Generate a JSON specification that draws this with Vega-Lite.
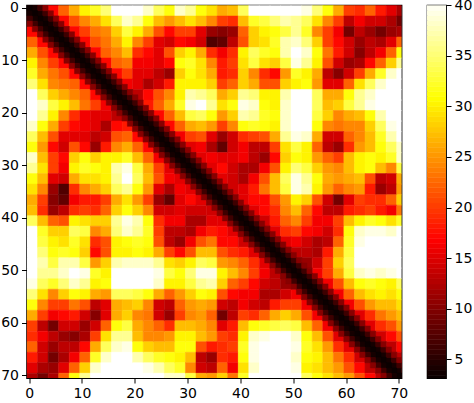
{"$schema":"https://vega.github.io/schema/vega-lite/v6.json","background":"white","padding":{"left":-2.5,"top":-3,"right":0,"bottom":0},"spacing":17.5,"config":{"view":{"stroke":"#000","strokeWidth":1.2},"axis":{"grid":false,"title":null,"labelFont":"DejaVu Sans","labelFontSize":14,"labelColor":"#000","tickColor":"#000","tickSize":5,"domain":false,"labelPadding":3}},"datasets":{"coarse":[
{"x":0,"y":0,"v":6},{"x":2,"y":0,"v":13},{"x":4,"y":0,"v":17},{"x":6,"y":0,"v":22},{"x":8,"y":0,"v":26},{"x":10,"y":0,"v":30},{"x":12,"y":0,"v":32},{"x":14,"y":0,"v":35},{"x":16,"y":0,"v":40},{"x":18,"y":0,"v":40},{"x":20,"y":0,"v":40},{"x":22,"y":0,"v":38},{"x":24,"y":0,"v":34},{"x":26,"y":0,"v":31},{"x":28,"y":0,"v":38},{"x":30,"y":0,"v":36},{"x":32,"y":0,"v":31},{"x":34,"y":0,"v":29},{"x":36,"y":0,"v":26},{"x":38,"y":0,"v":27},{"x":40,"y":0,"v":34},{"x":42,"y":0,"v":40},{"x":44,"y":0,"v":40},{"x":46,"y":0,"v":40},{"x":48,"y":0,"v":40},{"x":50,"y":0,"v":40},{"x":52,"y":0,"v":39},{"x":54,"y":0,"v":35},{"x":56,"y":0,"v":31},{"x":58,"y":0,"v":26},{"x":60,"y":0,"v":20},{"x":62,"y":0,"v":19},{"x":64,"y":0,"v":22},{"x":66,"y":0,"v":18},{"x":68,"y":0,"v":15},{"x":70,"y":0,"v":12},
{"x":2,"y":2,"v":6},{"x":4,"y":2,"v":12},{"x":6,"y":2,"v":17},{"x":8,"y":2,"v":21},{"x":10,"y":2,"v":24},{"x":12,"y":2,"v":26},{"x":14,"y":2,"v":29},{"x":16,"y":2,"v":34},{"x":18,"y":2,"v":38},{"x":20,"y":2,"v":36},{"x":22,"y":2,"v":31},{"x":24,"y":2,"v":27},{"x":26,"y":2,"v":25},{"x":28,"y":2,"v":27},{"x":30,"y":2,"v":29},{"x":32,"y":2,"v":27},{"x":34,"y":2,"v":24},{"x":36,"y":2,"v":20},{"x":38,"y":2,"v":19},{"x":40,"y":2,"v":27},{"x":42,"y":2,"v":32},{"x":44,"y":2,"v":33},{"x":46,"y":2,"v":35},{"x":48,"y":2,"v":37},{"x":50,"y":2,"v":36},{"x":52,"y":2,"v":34},{"x":54,"y":2,"v":29},{"x":56,"y":2,"v":24},{"x":58,"y":2,"v":20},{"x":60,"y":2,"v":13},{"x":62,"y":2,"v":16},{"x":64,"y":2,"v":14},{"x":66,"y":2,"v":14},{"x":68,"y":2,"v":12},{"x":70,"y":2,"v":9},
{"x":4,"y":4,"v":6},{"x":6,"y":4,"v":12},{"x":8,"y":4,"v":17},{"x":10,"y":4,"v":20},{"x":12,"y":4,"v":23},{"x":14,"y":4,"v":24},{"x":16,"y":4,"v":28},{"x":18,"y":4,"v":33},{"x":20,"y":4,"v":30},{"x":22,"y":4,"v":26},{"x":24,"y":4,"v":21},{"x":26,"y":4,"v":17},{"x":28,"y":4,"v":20},{"x":30,"y":4,"v":20},{"x":32,"y":4,"v":15},{"x":34,"y":4,"v":11},{"x":36,"y":4,"v":10},{"x":38,"y":4,"v":11},{"x":40,"y":4,"v":22},{"x":42,"y":4,"v":28},{"x":44,"y":4,"v":30},{"x":46,"y":4,"v":31},{"x":48,"y":4,"v":33},{"x":50,"y":4,"v":36},{"x":52,"y":4,"v":32},{"x":54,"y":4,"v":24},{"x":56,"y":4,"v":20},{"x":58,"y":4,"v":16},{"x":60,"y":4,"v":9},{"x":62,"y":4,"v":13},{"x":64,"y":4,"v":11},{"x":66,"y":4,"v":9},{"x":68,"y":4,"v":11},{"x":70,"y":4,"v":12},
{"x":6,"y":6,"v":6},{"x":8,"y":6,"v":12},{"x":10,"y":6,"v":17},{"x":12,"y":6,"v":21},{"x":14,"y":6,"v":23},{"x":16,"y":6,"v":26},{"x":18,"y":6,"v":30},{"x":20,"y":6,"v":24},{"x":22,"y":6,"v":20},{"x":24,"y":6,"v":15},{"x":26,"y":6,"v":14},{"x":28,"y":6,"v":17},{"x":30,"y":6,"v":16},{"x":32,"y":6,"v":14},{"x":34,"y":6,"v":7},{"x":36,"y":6,"v":8},{"x":38,"y":6,"v":13},{"x":40,"y":6,"v":21},{"x":42,"y":6,"v":28},{"x":44,"y":6,"v":29},{"x":46,"y":6,"v":32},{"x":48,"y":6,"v":37},{"x":50,"y":6,"v":38},{"x":52,"y":6,"v":35},{"x":54,"y":6,"v":28},{"x":56,"y":6,"v":20},{"x":58,"y":6,"v":17},{"x":60,"y":6,"v":14},{"x":62,"y":6,"v":11},{"x":64,"y":6,"v":13},{"x":66,"y":6,"v":12},{"x":68,"y":6,"v":15},{"x":70,"y":6,"v":22},
{"x":8,"y":8,"v":6},{"x":10,"y":8,"v":12},{"x":12,"y":8,"v":17},{"x":14,"y":8,"v":22},{"x":16,"y":8,"v":24},{"x":18,"y":8,"v":27},{"x":20,"y":8,"v":19},{"x":22,"y":8,"v":17},{"x":24,"y":8,"v":15},{"x":26,"y":8,"v":21},{"x":28,"y":8,"v":28},{"x":30,"y":8,"v":30},{"x":32,"y":8,"v":26},{"x":34,"y":8,"v":19},{"x":36,"y":8,"v":16},{"x":38,"y":8,"v":19},{"x":40,"y":8,"v":30},{"x":42,"y":8,"v":34},{"x":44,"y":8,"v":32},{"x":46,"y":8,"v":31},{"x":48,"y":8,"v":37},{"x":50,"y":8,"v":40},{"x":52,"y":8,"v":38},{"x":54,"y":8,"v":31},{"x":56,"y":8,"v":23},{"x":58,"y":8,"v":18},{"x":60,"y":8,"v":14},{"x":62,"y":8,"v":10},{"x":64,"y":8,"v":13},{"x":66,"y":8,"v":16},{"x":68,"y":8,"v":22},{"x":70,"y":8,"v":31},
{"x":10,"y":10,"v":6},{"x":12,"y":10,"v":12},{"x":14,"y":10,"v":17},{"x":16,"y":10,"v":22},{"x":18,"y":10,"v":23},{"x":20,"y":10,"v":16},{"x":22,"y":10,"v":16},{"x":24,"y":10,"v":15},{"x":26,"y":10,"v":17},{"x":28,"y":10,"v":31},{"x":30,"y":10,"v":32},{"x":32,"y":10,"v":29},{"x":34,"y":10,"v":24},{"x":36,"y":10,"v":18},{"x":38,"y":10,"v":20},{"x":40,"y":10,"v":29},{"x":42,"y":10,"v":33},{"x":44,"y":10,"v":29},{"x":46,"y":10,"v":28},{"x":48,"y":10,"v":33},{"x":50,"y":10,"v":39},{"x":52,"y":10,"v":36},{"x":54,"y":10,"v":30},{"x":56,"y":10,"v":21},{"x":58,"y":10,"v":14},{"x":60,"y":10,"v":11},{"x":62,"y":10,"v":12},{"x":64,"y":10,"v":17},{"x":66,"y":10,"v":22},{"x":68,"y":10,"v":28},{"x":70,"y":10,"v":36},
{"x":12,"y":12,"v":6},{"x":14,"y":12,"v":12},{"x":16,"y":12,"v":17},{"x":18,"y":12,"v":20},{"x":20,"y":12,"v":15},{"x":22,"y":12,"v":15},{"x":24,"y":12,"v":13},{"x":26,"y":12,"v":11},{"x":28,"y":12,"v":28},{"x":30,"y":12,"v":31},{"x":32,"y":12,"v":29},{"x":34,"y":12,"v":26},{"x":36,"y":12,"v":18},{"x":38,"y":12,"v":19},{"x":40,"y":12,"v":28},{"x":42,"y":12,"v":24},{"x":44,"y":12,"v":19},{"x":46,"y":12,"v":17},{"x":48,"y":12,"v":25},{"x":50,"y":12,"v":32},{"x":52,"y":12,"v":30},{"x":54,"y":12,"v":26},{"x":56,"y":12,"v":13},{"x":58,"y":12,"v":10},{"x":60,"y":12,"v":14},{"x":62,"y":12,"v":20},{"x":64,"y":12,"v":26},{"x":66,"y":12,"v":32},{"x":68,"y":12,"v":38},{"x":70,"y":12,"v":40},
{"x":14,"y":14,"v":6},{"x":16,"y":14,"v":12},{"x":18,"y":14,"v":16},{"x":20,"y":14,"v":15},{"x":22,"y":14,"v":12},{"x":24,"y":14,"v":14},{"x":26,"y":14,"v":18},{"x":28,"y":14,"v":30},{"x":30,"y":14,"v":30},{"x":32,"y":14,"v":30},{"x":34,"y":14,"v":28},{"x":36,"y":14,"v":20},{"x":38,"y":14,"v":22},{"x":40,"y":14,"v":28},{"x":42,"y":14,"v":26},{"x":44,"y":14,"v":21},{"x":46,"y":14,"v":21},{"x":48,"y":14,"v":28},{"x":50,"y":14,"v":30},{"x":52,"y":14,"v":31},{"x":54,"y":14,"v":25},{"x":56,"y":14,"v":15},{"x":58,"y":14,"v":15},{"x":60,"y":14,"v":22},{"x":62,"y":14,"v":29},{"x":64,"y":14,"v":34},{"x":66,"y":14,"v":38},{"x":68,"y":14,"v":40},{"x":70,"y":14,"v":40},
{"x":16,"y":16,"v":6},{"x":18,"y":16,"v":11},{"x":20,"y":16,"v":13},{"x":22,"y":16,"v":17},{"x":24,"y":16,"v":21},{"x":26,"y":16,"v":24},{"x":28,"y":16,"v":30},{"x":30,"y":16,"v":37},{"x":32,"y":16,"v":36},{"x":34,"y":16,"v":34},{"x":36,"y":16,"v":26},{"x":38,"y":16,"v":28},{"x":40,"y":16,"v":36},{"x":42,"y":16,"v":35},{"x":44,"y":16,"v":30},{"x":46,"y":16,"v":30},{"x":48,"y":16,"v":37},{"x":50,"y":16,"v":40},{"x":52,"y":16,"v":40},{"x":54,"y":16,"v":34},{"x":56,"y":16,"v":26},{"x":58,"y":16,"v":26},{"x":60,"y":16,"v":31},{"x":62,"y":16,"v":36},{"x":64,"y":16,"v":38},{"x":66,"y":16,"v":40},{"x":68,"y":16,"v":40},{"x":70,"y":16,"v":40},
{"x":18,"y":18,"v":6},{"x":20,"y":18,"v":12},{"x":22,"y":18,"v":18},{"x":24,"y":18,"v":22},{"x":26,"y":18,"v":26},{"x":28,"y":18,"v":32},{"x":30,"y":18,"v":39},{"x":32,"y":18,"v":40},{"x":34,"y":18,"v":36},{"x":36,"y":18,"v":29},{"x":38,"y":18,"v":31},{"x":40,"y":18,"v":39},{"x":42,"y":18,"v":38},{"x":44,"y":18,"v":31},{"x":46,"y":18,"v":30},{"x":48,"y":18,"v":38},{"x":50,"y":18,"v":40},{"x":52,"y":18,"v":40},{"x":54,"y":18,"v":34},{"x":56,"y":18,"v":27},{"x":58,"y":18,"v":28},{"x":60,"y":18,"v":33},{"x":62,"y":18,"v":36},{"x":64,"y":18,"v":39},{"x":66,"y":18,"v":40},{"x":68,"y":18,"v":40},{"x":70,"y":18,"v":40},
{"x":20,"y":20,"v":6},{"x":22,"y":20,"v":12},{"x":24,"y":20,"v":17},{"x":26,"y":20,"v":22},{"x":28,"y":20,"v":27},{"x":30,"y":20,"v":33},{"x":32,"y":20,"v":34},{"x":34,"y":20,"v":31},{"x":36,"y":20,"v":25},{"x":38,"y":20,"v":28},{"x":40,"y":20,"v":37},{"x":42,"y":20,"v":36},{"x":44,"y":20,"v":32},{"x":46,"y":20,"v":31},{"x":48,"y":20,"v":38},{"x":50,"y":20,"v":40},{"x":52,"y":20,"v":40},{"x":54,"y":20,"v":33},{"x":56,"y":20,"v":28},{"x":58,"y":20,"v":24},{"x":60,"y":20,"v":26},{"x":62,"y":20,"v":27},{"x":64,"y":20,"v":31},{"x":66,"y":20,"v":37},{"x":68,"y":20,"v":40},{"x":70,"y":20,"v":40},
{"x":22,"y":22,"v":6},{"x":24,"y":22,"v":12},{"x":26,"y":22,"v":17},{"x":28,"y":22,"v":22},{"x":30,"y":22,"v":26},{"x":32,"y":22,"v":27},{"x":34,"y":22,"v":25},{"x":36,"y":22,"v":20},{"x":38,"y":22,"v":24},{"x":40,"y":22,"v":31},{"x":42,"y":22,"v":32},{"x":44,"y":22,"v":31},{"x":46,"y":22,"v":30},{"x":48,"y":22,"v":38},{"x":50,"y":22,"v":40},{"x":52,"y":22,"v":40},{"x":54,"y":22,"v":31},{"x":56,"y":22,"v":24},{"x":58,"y":22,"v":23},{"x":60,"y":22,"v":24},{"x":62,"y":22,"v":24},{"x":64,"y":22,"v":28},{"x":66,"y":22,"v":34},{"x":68,"y":22,"v":39},{"x":70,"y":22,"v":40},
{"x":24,"y":24,"v":6},{"x":26,"y":24,"v":12},{"x":28,"y":24,"v":16},{"x":30,"y":24,"v":20},{"x":32,"y":24,"v":21},{"x":34,"y":24,"v":15},{"x":36,"y":24,"v":11},{"x":38,"y":24,"v":14},{"x":40,"y":24,"v":19},{"x":42,"y":24,"v":20},{"x":44,"y":24,"v":21},{"x":46,"y":24,"v":26},{"x":48,"y":24,"v":36},{"x":50,"y":24,"v":39},{"x":52,"y":24,"v":38},{"x":54,"y":24,"v":26},{"x":56,"y":24,"v":14},{"x":58,"y":24,"v":14},{"x":60,"y":24,"v":22},{"x":62,"y":24,"v":24},{"x":64,"y":24,"v":27},{"x":66,"y":24,"v":32},{"x":68,"y":24,"v":37},{"x":70,"y":24,"v":40},
{"x":26,"y":26,"v":6},{"x":28,"y":26,"v":11},{"x":30,"y":26,"v":15},{"x":32,"y":26,"v":16},{"x":34,"y":26,"v":12},{"x":36,"y":26,"v":8},{"x":38,"y":26,"v":14},{"x":40,"y":26,"v":16},{"x":42,"y":26,"v":13},{"x":44,"y":26,"v":13},{"x":46,"y":26,"v":20},{"x":48,"y":26,"v":29},{"x":50,"y":26,"v":33},{"x":52,"y":26,"v":30},{"x":54,"y":26,"v":22},{"x":56,"y":26,"v":13},{"x":58,"y":26,"v":11},{"x":60,"y":26,"v":19},{"x":62,"y":26,"v":25},{"x":64,"y":26,"v":27},{"x":66,"y":26,"v":31},{"x":68,"y":26,"v":34},{"x":70,"y":26,"v":38},
{"x":28,"y":28,"v":6},{"x":30,"y":28,"v":11},{"x":32,"y":28,"v":15},{"x":34,"y":28,"v":16},{"x":36,"y":28,"v":15},{"x":38,"y":28,"v":15},{"x":40,"y":28,"v":16},{"x":42,"y":28,"v":13},{"x":44,"y":28,"v":11},{"x":46,"y":28,"v":17},{"x":48,"y":28,"v":28},{"x":50,"y":28,"v":31},{"x":52,"y":28,"v":30},{"x":54,"y":28,"v":25},{"x":56,"y":28,"v":22},{"x":58,"y":28,"v":20},{"x":60,"y":28,"v":27},{"x":62,"y":28,"v":30},{"x":64,"y":28,"v":31},{"x":66,"y":28,"v":30},{"x":68,"y":28,"v":32},{"x":70,"y":28,"v":38},
{"x":30,"y":30,"v":6},{"x":32,"y":30,"v":11},{"x":34,"y":30,"v":15},{"x":36,"y":30,"v":17},{"x":38,"y":30,"v":14},{"x":40,"y":30,"v":12},{"x":42,"y":30,"v":12},{"x":44,"y":30,"v":16},{"x":46,"y":30,"v":21},{"x":48,"y":30,"v":30},{"x":50,"y":30,"v":35},{"x":52,"y":30,"v":33},{"x":54,"y":30,"v":28},{"x":56,"y":30,"v":25},{"x":58,"y":30,"v":24},{"x":60,"y":30,"v":27},{"x":62,"y":30,"v":30},{"x":64,"y":30,"v":31},{"x":66,"y":30,"v":27},{"x":68,"y":30,"v":24},{"x":70,"y":30,"v":33},
{"x":32,"y":32,"v":6},{"x":34,"y":32,"v":11},{"x":36,"y":32,"v":15},{"x":38,"y":32,"v":14},{"x":40,"y":32,"v":12},{"x":42,"y":32,"v":16},{"x":44,"y":32,"v":21},{"x":46,"y":32,"v":27},{"x":48,"y":32,"v":34},{"x":50,"y":32,"v":39},{"x":52,"y":32,"v":36},{"x":54,"y":32,"v":31},{"x":56,"y":32,"v":26},{"x":58,"y":32,"v":25},{"x":60,"y":32,"v":26},{"x":62,"y":32,"v":27},{"x":64,"y":32,"v":21},{"x":66,"y":32,"v":13},{"x":68,"y":32,"v":14},{"x":70,"y":32,"v":26},
{"x":34,"y":34,"v":6},{"x":36,"y":34,"v":11},{"x":38,"y":34,"v":14},{"x":40,"y":34,"v":15},{"x":42,"y":34,"v":18},{"x":44,"y":34,"v":23},{"x":46,"y":34,"v":27},{"x":48,"y":34,"v":33},{"x":50,"y":34,"v":39},{"x":52,"y":34,"v":37},{"x":54,"y":34,"v":30},{"x":56,"y":34,"v":25},{"x":58,"y":34,"v":22},{"x":60,"y":34,"v":24},{"x":62,"y":34,"v":25},{"x":64,"y":34,"v":18},{"x":66,"y":34,"v":11},{"x":68,"y":34,"v":13},{"x":70,"y":34,"v":25},
{"x":36,"y":36,"v":6},{"x":38,"y":36,"v":11},{"x":40,"y":36,"v":15},{"x":42,"y":36,"v":17},{"x":44,"y":36,"v":17},{"x":46,"y":36,"v":21},{"x":48,"y":36,"v":25},{"x":50,"y":36,"v":30},{"x":52,"y":36,"v":28},{"x":54,"y":36,"v":21},{"x":56,"y":36,"v":14},{"x":58,"y":36,"v":9},{"x":60,"y":36,"v":15},{"x":62,"y":36,"v":20},{"x":64,"y":36,"v":19},{"x":66,"y":36,"v":19},{"x":68,"y":36,"v":22},{"x":70,"y":36,"v":28},
{"x":38,"y":38,"v":6},{"x":40,"y":38,"v":11},{"x":42,"y":38,"v":15},{"x":44,"y":38,"v":17},{"x":46,"y":38,"v":19},{"x":48,"y":38,"v":24},{"x":50,"y":38,"v":27},{"x":52,"y":38,"v":22},{"x":54,"y":38,"v":17},{"x":56,"y":38,"v":13},{"x":58,"y":38,"v":13},{"x":60,"y":38,"v":18},{"x":62,"y":38,"v":19},{"x":64,"y":38,"v":20},{"x":66,"y":38,"v":18},{"x":68,"y":38,"v":16},{"x":70,"y":38,"v":23},
{"x":40,"y":40,"v":6},{"x":42,"y":40,"v":11},{"x":44,"y":40,"v":14},{"x":46,"y":40,"v":18},{"x":48,"y":40,"v":22},{"x":50,"y":40,"v":24},{"x":52,"y":40,"v":20},{"x":54,"y":40,"v":16},{"x":56,"y":40,"v":16},{"x":58,"y":40,"v":20},{"x":60,"y":40,"v":27},{"x":62,"y":40,"v":30},{"x":64,"y":40,"v":32},{"x":66,"y":40,"v":31},{"x":68,"y":40,"v":29},{"x":70,"y":40,"v":32},
{"x":42,"y":42,"v":6},{"x":44,"y":42,"v":11},{"x":46,"y":42,"v":15},{"x":48,"y":42,"v":19},{"x":50,"y":42,"v":20},{"x":52,"y":42,"v":17},{"x":54,"y":42,"v":16},{"x":56,"y":42,"v":14},{"x":58,"y":42,"v":19},{"x":60,"y":42,"v":31},{"x":62,"y":42,"v":38},{"x":64,"y":42,"v":39},{"x":66,"y":42,"v":39},{"x":68,"y":42,"v":38},{"x":70,"y":42,"v":40},
{"x":44,"y":44,"v":6},{"x":46,"y":44,"v":11},{"x":48,"y":44,"v":15},{"x":50,"y":44,"v":16},{"x":52,"y":44,"v":14},{"x":54,"y":44,"v":12},{"x":56,"y":44,"v":13},{"x":58,"y":44,"v":22},{"x":60,"y":44,"v":32},{"x":62,"y":44,"v":39},{"x":64,"y":44,"v":40},{"x":66,"y":44,"v":40},{"x":68,"y":44,"v":40},{"x":70,"y":44,"v":40},
{"x":46,"y":46,"v":6},{"x":48,"y":46,"v":11},{"x":50,"y":46,"v":13},{"x":52,"y":46,"v":13},{"x":54,"y":46,"v":12},{"x":56,"y":46,"v":18},{"x":58,"y":46,"v":26},{"x":60,"y":46,"v":33},{"x":62,"y":46,"v":40},{"x":64,"y":46,"v":40},{"x":66,"y":46,"v":40},{"x":68,"y":46,"v":40},{"x":70,"y":46,"v":40},
{"x":48,"y":48,"v":6},{"x":50,"y":48,"v":10},{"x":52,"y":48,"v":11},{"x":54,"y":48,"v":14},{"x":56,"y":48,"v":20},{"x":58,"y":48,"v":28},{"x":60,"y":48,"v":34},{"x":62,"y":48,"v":40},{"x":64,"y":48,"v":40},{"x":66,"y":48,"v":40},{"x":68,"y":48,"v":40},{"x":70,"y":48,"v":40},
{"x":50,"y":50,"v":6},{"x":52,"y":50,"v":11},{"x":54,"y":50,"v":16},{"x":56,"y":50,"v":20},{"x":58,"y":50,"v":26},{"x":60,"y":50,"v":33},{"x":62,"y":50,"v":38},{"x":64,"y":50,"v":39},{"x":66,"y":50,"v":38},{"x":68,"y":50,"v":39},{"x":70,"y":50,"v":40},
{"x":52,"y":52,"v":6},{"x":54,"y":52,"v":11},{"x":56,"y":52,"v":16},{"x":58,"y":52,"v":21},{"x":60,"y":52,"v":27},{"x":62,"y":52,"v":31},{"x":64,"y":52,"v":32},{"x":66,"y":52,"v":31},{"x":68,"y":52,"v":30},{"x":70,"y":52,"v":34},
{"x":54,"y":54,"v":6},{"x":56,"y":54,"v":11},{"x":58,"y":54,"v":16},{"x":60,"y":54,"v":22},{"x":62,"y":54,"v":27},{"x":64,"y":54,"v":29},{"x":66,"y":54,"v":30},{"x":68,"y":54,"v":29},{"x":70,"y":54,"v":31},
{"x":56,"y":56,"v":6},{"x":58,"y":56,"v":11},{"x":60,"y":56,"v":16},{"x":62,"y":56,"v":21},{"x":64,"y":56,"v":25},{"x":66,"y":56,"v":27},{"x":68,"y":56,"v":27},{"x":70,"y":56,"v":29},
{"x":58,"y":58,"v":6},{"x":60,"y":58,"v":11},{"x":62,"y":58,"v":15},{"x":64,"y":58,"v":19},{"x":66,"y":58,"v":23},{"x":68,"y":58,"v":25},{"x":70,"y":58,"v":27},
{"x":60,"y":60,"v":6},{"x":62,"y":60,"v":11},{"x":64,"y":60,"v":15},{"x":66,"y":60,"v":19},{"x":68,"y":60,"v":21},{"x":70,"y":60,"v":25},
{"x":62,"y":62,"v":6},{"x":64,"y":62,"v":11},{"x":66,"y":62,"v":14},{"x":68,"y":62,"v":17},{"x":70,"y":62,"v":21},
{"x":64,"y":64,"v":6},{"x":66,"y":64,"v":11},{"x":68,"y":64,"v":13},{"x":70,"y":64,"v":17},
{"x":66,"y":66,"v":6},{"x":68,"y":66,"v":11},{"x":70,"y":66,"v":13},
{"x":68,"y":68,"v":6},{"x":70,"y":68,"v":11},
{"x":70,"y":70,"v":6}
],"band":[
{"x":0,"y":0,"v":3.2},{"x":1,"y":1,"v":3.2},{"x":2,"y":2,"v":3.2},{"x":3,"y":3,"v":3.2},{"x":4,"y":4,"v":3.2},{"x":5,"y":5,"v":3.2},{"x":6,"y":6,"v":3.2},{"x":7,"y":7,"v":3.2},{"x":8,"y":8,"v":3.2},{"x":9,"y":9,"v":3.2},{"x":10,"y":10,"v":3.2},{"x":11,"y":11,"v":3.2},{"x":12,"y":12,"v":3.2},{"x":13,"y":13,"v":3.2},{"x":14,"y":14,"v":3.2},{"x":15,"y":15,"v":3.2},{"x":16,"y":16,"v":3.2},{"x":17,"y":17,"v":3.2},{"x":18,"y":18,"v":3.2},{"x":19,"y":19,"v":3.2},{"x":20,"y":20,"v":3.2},{"x":21,"y":21,"v":3.2},{"x":22,"y":22,"v":3.2},{"x":23,"y":23,"v":3.2},{"x":24,"y":24,"v":3.2},{"x":25,"y":25,"v":3.2},{"x":26,"y":26,"v":3.2},{"x":27,"y":27,"v":3.2},{"x":28,"y":28,"v":3.2},{"x":29,"y":29,"v":3.2},{"x":30,"y":30,"v":3.2},{"x":31,"y":31,"v":3.2},{"x":32,"y":32,"v":3.2},{"x":33,"y":33,"v":3.2},{"x":34,"y":34,"v":3.2},{"x":35,"y":35,"v":3.2},{"x":36,"y":36,"v":3.2},{"x":37,"y":37,"v":3.2},{"x":38,"y":38,"v":3.2},{"x":39,"y":39,"v":3.2},{"x":40,"y":40,"v":3.2},{"x":41,"y":41,"v":3.2},{"x":42,"y":42,"v":3.2},{"x":43,"y":43,"v":3.2},{"x":44,"y":44,"v":3.2},{"x":45,"y":45,"v":3.2},{"x":46,"y":46,"v":3.2},{"x":47,"y":47,"v":3.2},{"x":48,"y":48,"v":3.2},{"x":49,"y":49,"v":3.2},{"x":50,"y":50,"v":3.2},{"x":51,"y":51,"v":3.2},{"x":52,"y":52,"v":3.2},{"x":53,"y":53,"v":3.2},{"x":54,"y":54,"v":3.2},{"x":55,"y":55,"v":3.2},{"x":56,"y":56,"v":3.2},{"x":57,"y":57,"v":3.2},{"x":58,"y":58,"v":3.2},{"x":59,"y":59,"v":3.2},{"x":60,"y":60,"v":3.2},{"x":61,"y":61,"v":3.2},{"x":62,"y":62,"v":3.2},{"x":63,"y":63,"v":3.2},{"x":64,"y":64,"v":3.2},{"x":65,"y":65,"v":3.2},{"x":66,"y":66,"v":3.2},{"x":67,"y":67,"v":3.2},{"x":68,"y":68,"v":3.2},{"x":69,"y":69,"v":3.2},{"x":70,"y":70,"v":3.2},
{"x":1,"y":0,"v":3.8},{"x":2,"y":1,"v":3.8},{"x":3,"y":2,"v":3.8},{"x":4,"y":3,"v":3.8},{"x":5,"y":4,"v":3.8},{"x":6,"y":5,"v":3.8},{"x":7,"y":6,"v":3.8},{"x":8,"y":7,"v":3.8},{"x":9,"y":8,"v":3.8},{"x":10,"y":9,"v":3.8},{"x":11,"y":10,"v":3.8},{"x":12,"y":11,"v":3.8},{"x":13,"y":12,"v":3.8},{"x":14,"y":13,"v":3.8},{"x":15,"y":14,"v":3.8},{"x":16,"y":15,"v":3.8},{"x":17,"y":16,"v":3.8},{"x":18,"y":17,"v":3.8},{"x":19,"y":18,"v":3.8},{"x":20,"y":19,"v":3.8},{"x":21,"y":20,"v":3.8},{"x":22,"y":21,"v":3.8},{"x":23,"y":22,"v":3.8},{"x":24,"y":23,"v":3.8},{"x":25,"y":24,"v":3.8},{"x":26,"y":25,"v":3.8},{"x":27,"y":26,"v":3.8},{"x":28,"y":27,"v":3.8},{"x":29,"y":28,"v":3.8},{"x":30,"y":29,"v":3.8},{"x":31,"y":30,"v":3.8},{"x":32,"y":31,"v":3.8},{"x":33,"y":32,"v":3.8},{"x":34,"y":33,"v":3.8},{"x":35,"y":34,"v":3.8},{"x":36,"y":35,"v":3.8},{"x":37,"y":36,"v":3.8},{"x":38,"y":37,"v":3.8},{"x":39,"y":38,"v":3.8},{"x":40,"y":39,"v":3.8},{"x":41,"y":40,"v":3.8},{"x":42,"y":41,"v":3.8},{"x":43,"y":42,"v":3.8},{"x":44,"y":43,"v":3.8},{"x":45,"y":44,"v":3.8},{"x":46,"y":45,"v":3.8},{"x":47,"y":46,"v":3.8},{"x":48,"y":47,"v":3.8},{"x":49,"y":48,"v":3.8},{"x":50,"y":49,"v":3.8},{"x":51,"y":50,"v":3.8},{"x":52,"y":51,"v":3.8},{"x":53,"y":52,"v":3.8},{"x":54,"y":53,"v":3.8},{"x":55,"y":54,"v":3.8},{"x":56,"y":55,"v":3.8},{"x":57,"y":56,"v":3.8},{"x":58,"y":57,"v":3.8},{"x":59,"y":58,"v":3.8},{"x":60,"y":59,"v":3.8},{"x":61,"y":60,"v":3.8},{"x":62,"y":61,"v":3.8},{"x":63,"y":62,"v":3.8},{"x":64,"y":63,"v":3.8},{"x":65,"y":64,"v":3.8},{"x":66,"y":65,"v":3.8},{"x":67,"y":66,"v":3.8},{"x":68,"y":67,"v":3.8},{"x":69,"y":68,"v":3.8},{"x":70,"y":69,"v":3.8},
{"x":2,"y":0,"v":6},{"x":3,"y":1,"v":6},{"x":4,"y":2,"v":6},{"x":5,"y":3,"v":6},{"x":6,"y":4,"v":6},{"x":7,"y":5,"v":6},{"x":8,"y":6,"v":6},{"x":9,"y":7,"v":6},{"x":10,"y":8,"v":6},{"x":11,"y":9,"v":6},{"x":12,"y":10,"v":6},{"x":13,"y":11,"v":6},{"x":14,"y":12,"v":6},{"x":15,"y":13,"v":6},{"x":16,"y":14,"v":6},{"x":17,"y":15,"v":6},{"x":18,"y":16,"v":6},{"x":19,"y":17,"v":6},{"x":20,"y":18,"v":6},{"x":21,"y":19,"v":6},{"x":22,"y":20,"v":6},{"x":23,"y":21,"v":6},{"x":24,"y":22,"v":6},{"x":25,"y":23,"v":6},{"x":26,"y":24,"v":6},{"x":27,"y":25,"v":6},{"x":28,"y":26,"v":6},{"x":29,"y":27,"v":6},{"x":30,"y":28,"v":6},{"x":31,"y":29,"v":6},{"x":32,"y":30,"v":6},{"x":33,"y":31,"v":6},{"x":34,"y":32,"v":6},{"x":35,"y":33,"v":6},{"x":36,"y":34,"v":6},{"x":37,"y":35,"v":6},{"x":38,"y":36,"v":6},{"x":39,"y":37,"v":6},{"x":40,"y":38,"v":6},{"x":41,"y":39,"v":6},{"x":42,"y":40,"v":6},{"x":43,"y":41,"v":6},{"x":44,"y":42,"v":6},{"x":45,"y":43,"v":6},{"x":46,"y":44,"v":6},{"x":47,"y":45,"v":6},{"x":48,"y":46,"v":6},{"x":49,"y":47,"v":6},{"x":50,"y":48,"v":6},{"x":51,"y":49,"v":6},{"x":52,"y":50,"v":6},{"x":53,"y":51,"v":6},{"x":54,"y":52,"v":6},{"x":55,"y":53,"v":6},{"x":56,"y":54,"v":6},{"x":57,"y":55,"v":6},{"x":58,"y":56,"v":6},{"x":59,"y":57,"v":6},{"x":60,"y":58,"v":6},{"x":61,"y":59,"v":6},{"x":62,"y":60,"v":6},{"x":63,"y":61,"v":6},{"x":64,"y":62,"v":6},{"x":65,"y":63,"v":6},{"x":66,"y":64,"v":6},{"x":67,"y":65,"v":6},{"x":68,"y":66,"v":6},{"x":69,"y":67,"v":6},{"x":70,"y":68,"v":6},
{"x":3,"y":0,"v":10},{"x":4,"y":1,"v":10},{"x":5,"y":2,"v":10},{"x":6,"y":3,"v":10},{"x":7,"y":4,"v":10},{"x":8,"y":5,"v":10},{"x":9,"y":6,"v":10},{"x":10,"y":7,"v":10},{"x":11,"y":8,"v":10},{"x":12,"y":9,"v":10},{"x":13,"y":10,"v":10},{"x":14,"y":11,"v":10},{"x":15,"y":12,"v":10},{"x":16,"y":13,"v":10},{"x":17,"y":14,"v":10},{"x":18,"y":15,"v":10},{"x":19,"y":16,"v":10},{"x":20,"y":17,"v":10},{"x":21,"y":18,"v":10},{"x":22,"y":19,"v":10},{"x":23,"y":20,"v":10},{"x":24,"y":21,"v":10},{"x":25,"y":22,"v":10},{"x":26,"y":23,"v":10},{"x":27,"y":24,"v":10},{"x":28,"y":25,"v":10},{"x":29,"y":26,"v":10},{"x":30,"y":27,"v":10},{"x":31,"y":28,"v":10},{"x":32,"y":29,"v":10},{"x":33,"y":30,"v":10},{"x":34,"y":31,"v":10},{"x":35,"y":32,"v":10},{"x":36,"y":33,"v":10},{"x":37,"y":34,"v":10},{"x":38,"y":35,"v":10},{"x":39,"y":36,"v":10},{"x":40,"y":37,"v":10},{"x":41,"y":38,"v":10},{"x":42,"y":39,"v":10},{"x":43,"y":40,"v":10},{"x":44,"y":41,"v":10},{"x":45,"y":42,"v":10},{"x":46,"y":43,"v":10},{"x":47,"y":44,"v":10},{"x":48,"y":45,"v":10},{"x":49,"y":46,"v":10},{"x":50,"y":47,"v":10},{"x":51,"y":48,"v":10},{"x":52,"y":49,"v":10},{"x":53,"y":50,"v":10},{"x":54,"y":51,"v":10},{"x":55,"y":52,"v":10},{"x":56,"y":53,"v":10},{"x":57,"y":54,"v":10},{"x":58,"y":55,"v":10},{"x":59,"y":56,"v":10},{"x":60,"y":57,"v":10},{"x":61,"y":58,"v":10},{"x":62,"y":59,"v":10},{"x":63,"y":60,"v":10},{"x":64,"y":61,"v":10},{"x":65,"y":62,"v":10},{"x":66,"y":63,"v":10},{"x":67,"y":64,"v":10},{"x":68,"y":65,"v":10},{"x":69,"y":66,"v":10},{"x":70,"y":67,"v":10}
],"bar":[{"v":3},{"v":3.5},{"v":4},{"v":4.5},{"v":5},{"v":5.5},{"v":6},{"v":6.5},{"v":7},{"v":7.5},{"v":8},{"v":8.5},{"v":9},{"v":9.5},{"v":10},{"v":10.5},{"v":11},{"v":11.5},{"v":12},{"v":12.5},{"v":13},{"v":13.5},{"v":14},{"v":14.5},{"v":15},{"v":15.5},{"v":16},{"v":16.5},{"v":17},{"v":17.5},{"v":18},{"v":18.5},{"v":19},{"v":19.5},{"v":20},{"v":20.5},{"v":21},{"v":21.5},{"v":22},{"v":22.5},{"v":23},{"v":23.5},{"v":24},{"v":24.5},{"v":25},{"v":25.5},{"v":26},{"v":26.5},{"v":27},{"v":27.5},{"v":28},{"v":28.5},{"v":29},{"v":29.5},{"v":30},{"v":30.5},{"v":31},{"v":31.5},{"v":32},{"v":32.5},{"v":33},{"v":33.5},{"v":34},{"v":34.5},{"v":35},{"v":35.5},{"v":36},{"v":36.5},{"v":37},{"v":37.5},{"v":38},{"v":38.5},{"v":39},{"v":39.5}]},
"hconcat":[
{"width":375,"height":373,"encoding":{"color":{"field":"v","type":"quantitative","scale":{"domain":[3.17,16.6,30.6,40],"range":["#0a0000","#ff0000","#ffff00","#ffffff"],"clamp":true,"interpolate":"rgb"},"legend":null},"stroke":{"field":"v","type":"quantitative","scale":{"domain":[3.17,16.6,30.6,40],"range":["#0a0000","#ff0000","#ffff00","#ffffff"],"clamp":true,"interpolate":"rgb"},"legend":null}},"layer":[
{"data":{"name":"coarse"},"mark":{"type":"rect","clip":true,"strokeWidth":0.5},"encoding":{"x":{"field":"x","type":"quantitative","bin":{"binned":true,"step":2},"scale":{"domain":[0,71]}},"y":{"field":"y","type":"quantitative","bin":{"binned":true,"step":2},"scale":{"domain":[0,71],"reverse":true}}}},
{"data":{"name":"coarse"},"mark":{"type":"rect","clip":true,"strokeWidth":0.5},"encoding":{"x":{"field":"y","type":"quantitative","bin":{"binned":true,"step":2},"scale":{"domain":[0,71]}},"y":{"field":"x","type":"quantitative","bin":{"binned":true,"step":2},"scale":{"domain":[0,71],"reverse":true}}}},
{"data":{"name":"band"},"mark":{"type":"rect","clip":true,"strokeWidth":0.5},"encoding":{"x":{"field":"x","type":"quantitative","bin":{"binned":true,"step":1},"scale":{"domain":[0,71]}},"y":{"field":"y","type":"quantitative","bin":{"binned":true,"step":1},"scale":{"domain":[0,71],"reverse":true}}}},
{"data":{"name":"band"},"mark":{"type":"rect","clip":true,"strokeWidth":0.5},"encoding":{"x":{"field":"y","type":"quantitative","bin":{"binned":true,"step":1},"scale":{"domain":[0,71]},"axis":{"values":[0.5,10.5,20.5,30.5,40.5,50.5,60.5,70.5],"labelExpr":"datum.value-0.5","labelFlush":false}},"y":{"field":"x","type":"quantitative","bin":{"binned":true,"step":1},"scale":{"domain":[0,71],"reverse":true},"axis":{"values":[0.5,10.5,20.5,30.5,40.5,50.5,60.5,70.5],"labelExpr":"datum.value-0.5","minExtent":27.5,"maxExtent":27.5}}}}
]},
{"width":19,"height":373,"data":{"name":"bar"},"mark":{"type":"rect","clip":true,"strokeWidth":0.5},"encoding":{"y":{"field":"v","type":"quantitative","bin":{"binned":true,"step":0.5},"scale":{"domain":[3.17,40]},"axis":{"orient":"right","values":[5,10,15,20,25,30,35,40],"format":"d"}},"color":{"field":"v","type":"quantitative","scale":{"domain":[3.17,16.6,30.6,40],"range":["#0a0000","#ff0000","#ffff00","#ffffff"],"clamp":true,"interpolate":"rgb"},"legend":null},"stroke":{"field":"v","type":"quantitative","scale":{"domain":[3.17,16.6,30.6,40],"range":["#0a0000","#ff0000","#ffff00","#ffffff"],"clamp":true,"interpolate":"rgb"},"legend":null}}}
]}
